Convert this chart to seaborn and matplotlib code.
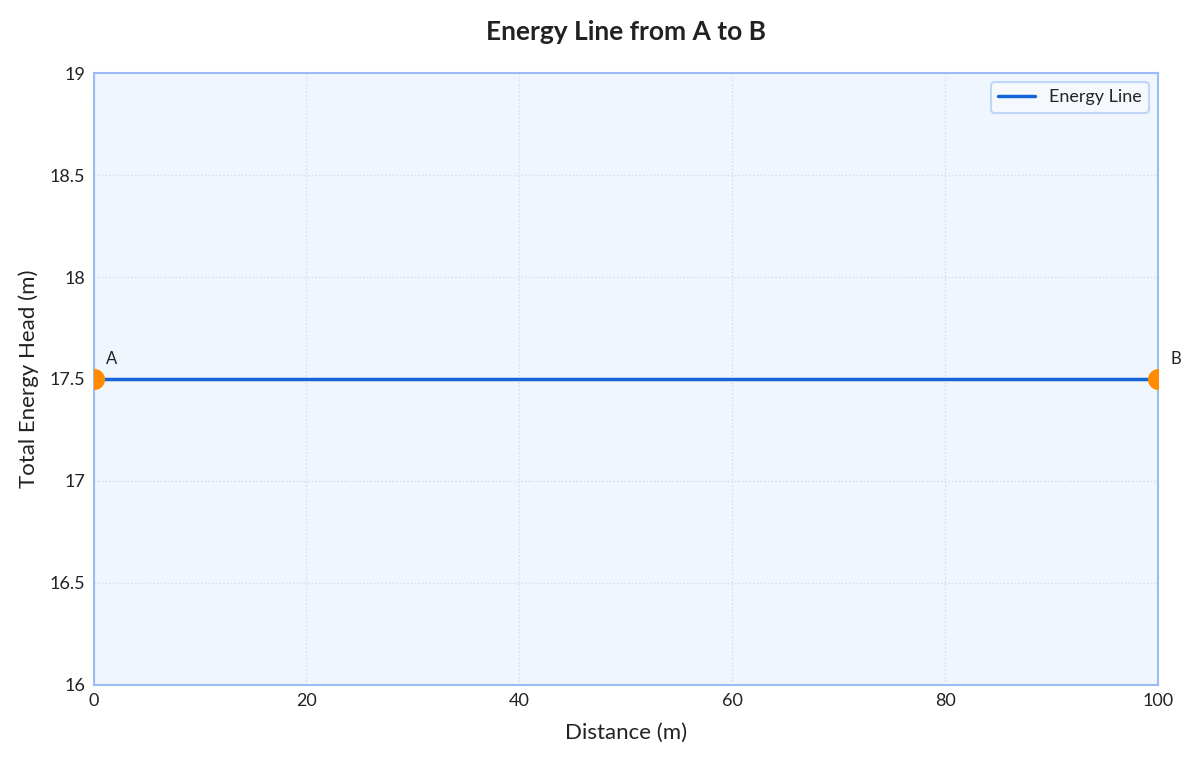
import pandas as pd
import seaborn as sns
import matplotlib.pyplot as plt
from matplotlib.ticker import FuncFormatter

# data
distance = [0, 100]
energy_head = [17.5, 17.5]
point_labels = ['A', 'B']

df = pd.DataFrame({'distance': distance, 'energy': energy_head, 'label': point_labels})

sns.set_theme(style="white")
plt.rcParams['font.family'] = ['Lato', 'DejaVu Sans']

fig = plt.figure(figsize=(12, 7.61), dpi=100)
ax = fig.add_axes([0.078, 0.1, 0.887, 0.804])
ax.set_facecolor('#f0f6fe')

sns.lineplot(data=df, x='distance', y='energy', ax=ax, color='#1565d8',
             linewidth=2.5, label='Energy Line')
ax.scatter(df['distance'], df['energy'], s=200, color='#ff8c00', zorder=5, clip_on=True)

for _, row in df.iterrows():
    ax.annotate(row['label'], (row['distance'], row['energy']),
                xytext=(9, 11), textcoords='offset points',
                fontsize=12, color='#222222', annotation_clip=False)

ax.set_xlim(0, 100)
ax.set_ylim(16, 19)
ax.set_yticks([16, 16.5, 17, 17.5, 18, 18.5, 19])
ax.yaxis.set_major_formatter(FuncFormatter(lambda v, p: f'{v:g}'))
ax.grid(True, linestyle=':', color='#d5dbe6', linewidth=1)
ax.tick_params(axis='both', length=0, labelsize=13, colors='#222222', pad=6)

for s in ax.spines.values():
    s.set_color('#9bbcf5')
    s.set_linewidth(1.5)

ax.set_xlabel('Distance (m)', fontsize=16, color='#222222', labelpad=10)
ax.set_ylabel('Total Energy Head (m)', fontsize=16, color='#222222', labelpad=8)
ax.set_title('Energy Line from A to B', fontsize=19, fontweight='bold',
             color='#222222', pad=24)

leg = ax.legend(loc='upper right', fontsize=13, frameon=True, fancybox=True)
leg.get_frame().set_edgecolor('#b5cdf7')
leg.get_frame().set_facecolor('#f7faff')
leg.get_frame().set_linewidth(1.5)

plt.savefig('out.png', dpi=100)
